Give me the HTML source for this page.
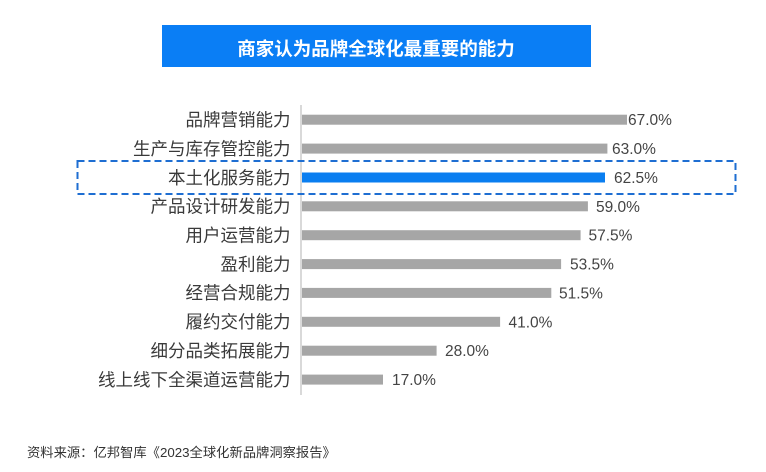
<!DOCTYPE html>
<html>
<head>
<meta charset="utf-8">
<style>
  html,body{margin:0;padding:0;background:#fff;}
  body{width:766px;height:472px;overflow:hidden;}
  svg{display:block;}
  .cat{font-family:"Liberation Sans","Noto Sans CJK SC",sans-serif;font-size:17.5px;fill:#3a3a3a;}
  .val{font-family:"Liberation Sans","Noto Sans CJK SC",sans-serif;font-size:15.5px;fill:#444;}
  .title{font-family:"Liberation Sans","Noto Sans CJK SC",sans-serif;font-size:18.5px;font-weight:bold;fill:#fff;}
  .src{font-family:"Liberation Sans","Noto Sans CJK SC",sans-serif;font-size:13.3px;fill:#333;}
</style>
</head>
<body>
<svg width="766" height="472" viewBox="0 0 766 472" xmlns="http://www.w3.org/2000/svg">
  <rect x="0" y="0" width="766" height="472" fill="#fff"/>
  <!-- title -->
  <rect x="162" y="25" width="429" height="42" fill="#0a7ef5"/>
  <text class="title" x="376" y="49" text-anchor="middle" dominant-baseline="central">商家认为品牌全球化最重要的能力</text>

  <!-- axis -->
  <rect x="300" y="105" width="2" height="290" fill="#d9d9d9"/>

  <!-- dashed highlight -->
  <rect x="77.5" y="161" width="658" height="33" fill="none" stroke="#1e6ed2" stroke-width="2" stroke-dasharray="7 4"/>

  <!-- bars -->
  <g fill="#a6a6a6">
    <rect x="302" y="114.7" width="325" height="10"/>
    <rect x="302" y="143.6" width="305.4" height="10"/>
    <rect x="302" y="201.3" width="285.9" height="10"/>
    <rect x="302" y="230.2" width="278.6" height="10"/>
    <rect x="302" y="259.1" width="259.1" height="10"/>
    <rect x="302" y="287.9" width="249.3" height="10"/>
    <rect x="302" y="316.8" width="198.1" height="10"/>
    <rect x="302" y="345.7" width="134.6" height="10"/>
    <rect x="302" y="374.6" width="81" height="10"/>
  </g>
  <rect x="302" y="172.5" width="303" height="10" fill="#0a7ef0"/>

  <!-- category labels -->
  <g text-anchor="end" dominant-baseline="central">
    <text class="cat" x="290.5" y="120">品牌营销能力</text>
    <text class="cat" x="290.5" y="148.9">生产与库存管控能力</text>
    <text class="cat" x="290.5" y="177.8">本土化服务能力</text>
    <text class="cat" x="290.5" y="206.6">产品设计研发能力</text>
    <text class="cat" x="290.5" y="235.5">用户运营能力</text>
    <text class="cat" x="290.5" y="264.4">盈利能力</text>
    <text class="cat" x="290.5" y="293.2">经营合规能力</text>
    <text class="cat" x="290.5" y="322.1">履约交付能力</text>
    <text class="cat" x="290.5" y="351">细分品类拓展能力</text>
    <text class="cat" x="290.5" y="379.9">线上线下全渠道运营能力</text>
  </g>

  <!-- value labels -->
  <g dominant-baseline="central">
    <text class="val" x="628" y="120.7">67.0%</text>
    <text class="val" x="612" y="149.6">63.0%</text>
    <text class="val" x="614" y="178.5">62.5%</text>
    <text class="val" x="596" y="207.3">59.0%</text>
    <text class="val" x="588.5" y="236.2">57.5%</text>
    <text class="val" x="570" y="265.1">53.5%</text>
    <text class="val" x="559" y="293.9">51.5%</text>
    <text class="val" x="508.5" y="322.8">41.0%</text>
    <text class="val" x="445" y="351.7">28.0%</text>
    <text class="val" x="392" y="380.6">17.0%</text>
  </g>

  <!-- source -->
  <text class="src" x="27" y="452.5" dominant-baseline="central">资料来源：亿邦智库《2023全球化新品牌洞察报告》</text>
</svg>
</body>
</html>
